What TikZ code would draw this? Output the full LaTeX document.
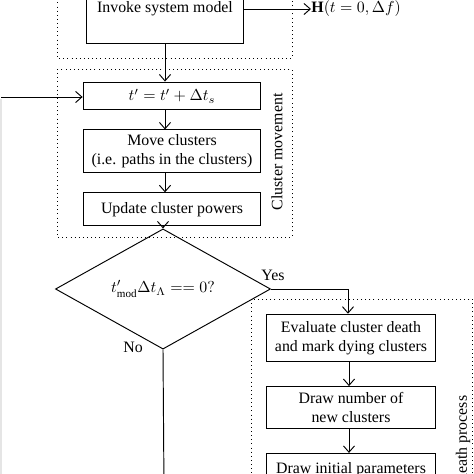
\documentclass[tikz,border=0pt]{standalone}
\usepackage{amsmath}
\usepackage{fontspec}
\setmainfont{Liberation Serif}
\usetikzlibrary{arrows.meta}
\usetikzlibrary{shapes.geometric}
\usetikzlibrary{positioning}

\begin{document}
\begin{tikzpicture}[->,>={Straight Barb[length=4pt,width=7pt]},auto,x=0.63pt,y=-0.63pt,
                    semithick]
  \tikzstyle{block}=[draw, rectangle, minimum width=112pt, inner sep=2pt, align=center]
  \tikzstyle{birth}=[draw, rectangle, minimum width=107pt, inner sep=2pt, align=center]
  \tikzstyle{group}=[draw, dotted, -]
  \tikzstyle{decision}=[draw, diamond, minimum width=135.5pt, minimum height=58pt, inner sep=0pt]
  \useasboundingbox (0,0) rectangle (474,474);
  \clip (0,0) rectangle (474,474);
  % dotted groups
  \draw[group] (57,-10) rectangle (292,58);
  \draw[group] (57,69) rectangle (292,237);
  \draw[group] (251,299) rectangle (472.5,490);
  \node[rotate=90] (movelabel) at (277,152) {Cluster movement};
  \node[rotate=90, anchor=east] (deathlabel) at (463,390) {death process};
  % system model
  \node[block, minimum width=99.5pt, minimum height=44pt] (invoke) at (165,9) {Invoke system model};
  \node[anchor=west, inner sep=0pt] (hout) at (311,9) {$\mathbf{H}(t=0,\Delta f)$};
  % cluster movement
  \node[block, minimum height=17.6pt] (tp) at (172,96) {$t' = t' + \Delta t_s$};
  \node[block, minimum height=27pt, below=12pt of tp] (move) {Move clusters\\(i.e. paths in the clusters)};
  \node[block, minimum height=20.8pt, below=12pt of move] (update) {Update cluster powers};
  \node[decision] (dec) at (163,289) {$t'_{\text{mod}}\Delta t_{\Lambda} == 0?$};
  % birth and death
  \node[birth, minimum height=30pt] (eval) at (351,338) {Evaluate cluster death\\and mark dying clusters};
  \node[birth, minimum height=26.5pt, below=15pt of eval] (drawnum) {Draw number of\\new clusters};
  \node[birth, minimum height=20pt, below=15pt of drawnum] (drawinit) {Draw initial parameters};
  \coordinate (loopc) at (1,97);
  \coordinate (noend) at (164,490);
  \node (yes) at (273,275) {Yes};
  \node (no) at (133,347) {No};
  \path (invoke.east) edge (hout.west)
        (invoke.south) edge (invoke.south |- tp.north)
        (tp.south -| invoke.south) edge (move.north -| invoke.south)
        (move.south -| invoke.south) edge (update.north -| invoke.south)
        (update.south -| dec.north) edge (dec.north)
        (loopc) edge (tp.west |- loopc)
        (eval.south -| 349,0) edge (drawnum.north -| 349,0)
        (drawnum.south -| 349,0) edge (drawinit.north -| 349,0);
  \draw (dec.east) -| (eval.north -| 348,0);
  \draw[-] (dec.south) -- (noend);
  \draw[-, gray!20, line width=1.5pt] (loopc) ++(0,2) -- (1,480);
\end{tikzpicture}
\end{document}
